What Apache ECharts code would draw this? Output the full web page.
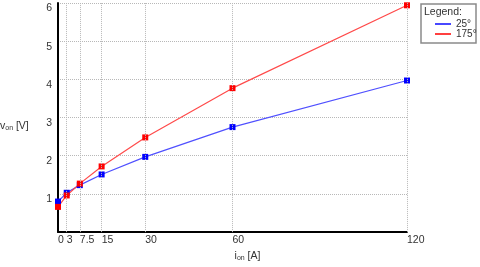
<!DOCTYPE html>
<html><head><meta charset="utf-8">
<script src="https://cdn.jsdelivr.net/npm/echarts@6/dist/echarts.min.js"></script>
<style>html,body{margin:0;padding:0;background:#fff}#c{width:480px;height:267px}</style>
</head><body><div id="c"></div>
<script>
const xTicks = [0, 3, 7.5, 15, 30, 60, 120];
const current = [0, 3, 7.5, 15, 30, 60, 120];
const v25 = [0.80, 1.03, 1.23, 1.51, 1.97, 2.75, 3.97];
const v175 = [0.66, 0.96, 1.27, 1.72, 2.48, 3.77, 5.94];
const seriesNames = ['25°', '175°'];

const font = 'Liberation Sans';
const chart = echarts.init(document.getElementById('c'));
chart.setOption({
  animation: false,
  grid: {left: 58, right: 73, top: 3, bottom: 32, containLabel: false},
  xAxis: {
    type: 'value', min: 0, max: 120,
    axisLine: {show: true, onZero: false, lineStyle: {color: '#000', width: 2}},
    axisTick: {show: false},
    splitLine: {show: false},
    axisLabel: {customValues: xTicks, align: 'left', margin: 3, color: '#333', fontFamily: font, fontSize: 10.5},
    name: 'i{s|on} [A]', nameLocation: 'middle', nameGap: 18,
    nameTextStyle: {color: '#333', fontFamily: font, fontSize: 10.5, padding: [0, 0, 0, 30],
      rich: {s: {fontSize: 7, verticalAlign: 'bottom', padding: [4, 0, 0, 0], fontFamily: font, color: '#333'}}}
  },
  yAxis: {
    type: 'value', min: 0, max: 6, interval: 1,
    axisLine: {show: true, onZero: false, lineStyle: {color: '#000', width: 2}},
    axisTick: {show: false},
    splitLine: {show: true, lineStyle: {color: '#b8b8b8', type: [1, 1], width: 1}},
    axisLabel: {formatter: v => v === 0 ? '' : String(v), verticalAlign: 'top', margin: 6, color: '#333', fontFamily: font, fontSize: 10.5}
  },
  legend: {
    orient: 'vertical', left: 435, top: 19, padding: 0, itemWidth: 16, itemHeight: 2, itemGap: 0,
    icon: 'rect',
    textStyle: {fontFamily: font, fontSize: 10, color: '#333', lineHeight: 10},
    data: [
      {name: seriesNames[0], itemStyle: {color: '#4848ff'}},
      {name: seriesNames[1], itemStyle: {color: '#ff4040'}}
    ]
  },
  graphic: [
    {type: 'rect', shape: {x: 421, y: 4, width: 55, height: 39}, style: {fill: '#fff', stroke: '#8a8a8a', lineWidth: 1.5}, z: -1, silent: true},
    {type: 'text', left: 424, top: 7, style: {text: 'Legend:', font: '10.5px "Liberation Sans"', fill: '#333'}},
    {type: 'text', left: 0, top: 121, style: {text: 'v{s|on} [V]', font: '10.5px "Liberation Sans"', fill: '#333',
      rich: {s: {fontSize: 7, verticalAlign: 'bottom', padding: [4, 0, 0, 0], fontFamily: font, fill: '#333'}}}}
  ],
  series: [
    {
      name: 'grid', type: 'line', data: [], silent: true,
      markLine: {silent: true, symbol: 'none', label: {show: false},
        lineStyle: {color: '#b8b8b8', type: [1, 1], width: 1},
        data: xTicks.filter(v => v > 0).map(v => ({xAxis: v}))}
    },
    {
      name: seriesNames[0], type: 'line', data: current.map((x, i) => [x, v25[i]]),
      symbol: 'rect', symbolSize: 6, itemStyle: {color: '#0000ff', borderWidth: 0},
      lineStyle: {color: '#5050ff', width: 1.2}
    },
    {
      name: seriesNames[1], type: 'line', data: current.map((x, i) => [x, v175[i]]),
      symbol: 'rect', symbolSize: 6, itemStyle: {color: '#ff0000', borderWidth: 0},
      lineStyle: {color: '#ff4a4a', width: 1.2}
    }
  ]
});
</script></body></html>
